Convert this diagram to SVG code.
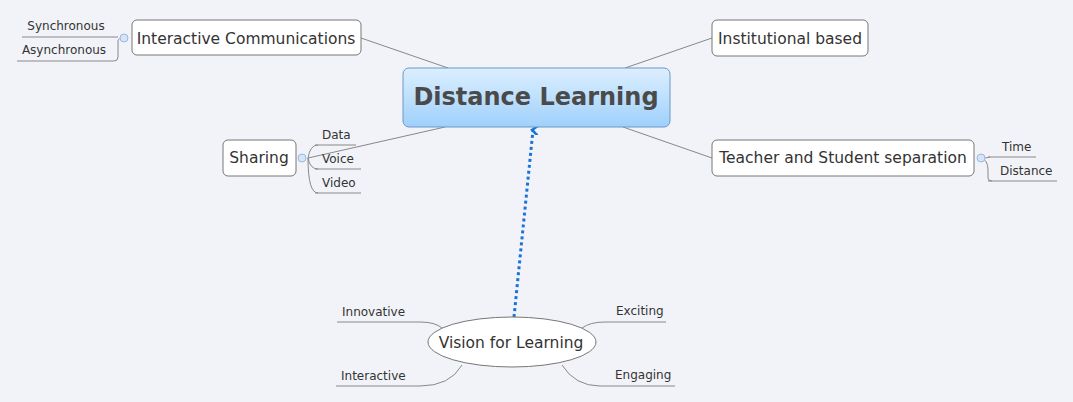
<svg xmlns="http://www.w3.org/2000/svg" width="1073" height="402" viewBox="0 0 1073 402">
<style>
text{font-family:"DejaVu Sans",Verdana,sans-serif;fill:#333}
.box{fill:#fff;stroke:#777;stroke-width:1}
.t{font-size:15.5px}
.s{font-size:12px}
.ln{fill:none;stroke:#888;stroke-width:1}
.dot{fill:#d6e4f7;stroke:#9bb8e0}
</style>
<defs>
<linearGradient id="g" x1="0" y1="0" x2="0" y2="1"><stop offset="0" stop-color="#dcefff"/><stop offset="1" stop-color="#9fd0fb"/></linearGradient>
<marker id="ah" markerWidth="10" markerHeight="10" refX="5" refY="3" orient="auto" markerUnits="userSpaceOnUse"><path d="M0,8 L5,2 L10,8" fill="none" stroke="#1a73d9" stroke-width="2.5"/></marker>
</defs>
<rect width="1073" height="402" fill="#f2f3f8"/>
<g id="connectors">
<path class="ln" d="M448,68 L361,38 M625,68 L712,38 M445,127 L308,158 M623,127 L712,158"/>
<path class="ln" d="M22,37 H118 M17,61 H114 Q118,61 118,57 V41 Q118,38 124,38"/>
<path class="ln" d="M315,145 H356 M315,169 H361 M315,193 H361 M308,158 Q310,145 318,145 M308,158 Q310,169 318,169 M308,158 Q308,193 318,193"/>
<path class="ln" d="M988,157 H1036 M988,181 H1057 M981,158 Q988,158 990,157 M981,158 Q988,160 988,170 V178 Q988,181 992,181"/>
<path class="ln" d="M337,322 H420 Q435,322 442,328 M666,322 H605 Q590,322 582,328 M336,386 H420 Q450,386 462,365 M675,386 H600 Q575,386 562,365"/>
<path d="M514,317 L533,130" fill="none" stroke="#1a73d9" stroke-width="3" stroke-dasharray="3,3" marker-end="url(#ah)"/>
</g>
<g id="center"><rect x="403" y="68" width="267" height="59" rx="6" fill="url(#g)" stroke="#6a98c8"/><text x="536" y="105" text-anchor="middle" style="font-size:24px;font-weight:bold;fill:#4a4a4a">Distance Learning</text></g>
<g id="ic"><rect class="box" x="132" y="20" width="229" height="35" rx="5"/><text class="t" x="246" y="44" text-anchor="middle">Interactive Communications</text><circle class="dot" cx="124" cy="38" r="4"/></g>
<g id="sync"><text class="s" x="66" y="30" text-anchor="middle">Synchronous</text></g>
<g id="async"><text class="s" x="64" y="54" text-anchor="middle">Asynchronous</text></g>
<g id="inst"><rect class="box" x="712" y="20" width="156" height="36" rx="5"/><text class="t" x="790" y="44" text-anchor="middle">Institutional based</text></g>
<g id="sharing"><rect class="box" x="223" y="140" width="73" height="36" rx="5"/><text class="t" x="259" y="163" text-anchor="middle">Sharing</text><circle class="dot" cx="302" cy="158" r="4"/></g>
<g id="data"><text class="s" x="322" y="139">Data</text></g>
<g id="voice"><text class="s" x="322" y="163">Voice</text></g>
<g id="video"><text class="s" x="322" y="187">Video</text></g>
<g id="teacher"><rect class="box" x="712" y="140" width="262" height="36" rx="5"/><text class="t" x="843" y="163" text-anchor="middle">Teacher and Student separation</text><circle class="dot" cx="981" cy="158" r="4"/></g>
<g id="time"><text class="s" x="1002" y="151">Time</text></g>
<g id="distance"><text class="s" x="1000" y="175">Distance</text></g>
<g id="vision"><ellipse cx="512" cy="342" rx="84" ry="25" fill="#fff" stroke="#777"/><text class="t" x="511" y="348" text-anchor="middle">Vision for Learning</text></g>
<g id="innov"><text class="s" x="342" y="316">Innovative</text></g>
<g id="exciting"><text class="s" x="616" y="315">Exciting</text></g>
<g id="interactive"><text class="s" x="341" y="380">Interactive</text></g>
<g id="engaging"><text class="s" x="615" y="379">Engaging</text></g>
</svg>
